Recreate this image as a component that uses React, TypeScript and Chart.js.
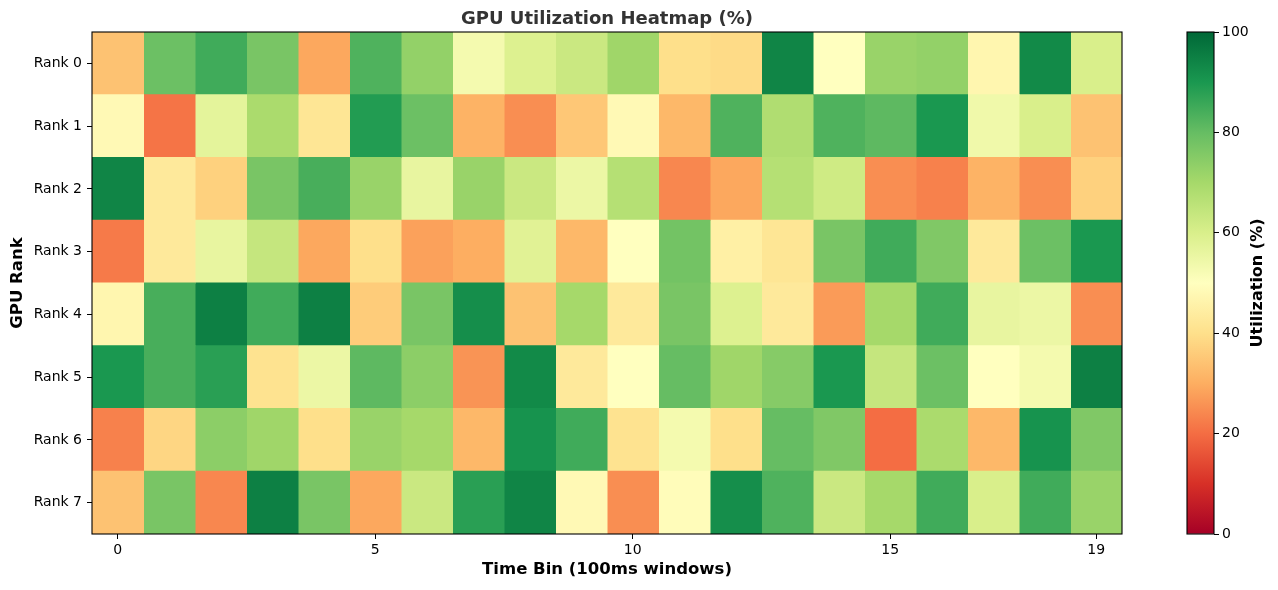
import React, { useEffect, useRef } from 'react';
import { Chart, registerables } from 'chart.js';

Chart.register(...registerables);

// Row labels (GPU ranks) and column labels (100ms time bins)
const rankLabels = ['Rank 0', 'Rank 1', 'Rank 2', 'Rank 3', 'Rank 4', 'Rank 5', 'Rank 6', 'Rank 7'];
const timeBins = [0, 1, 2, 3, 4, 5, 6, 7, 8, 9, 10, 11, 12, 13, 14, 15, 16, 17, 18, 19];
const timeTicks = [0, 5, 10, 15, 19];
const colorbarTicks = [0, 20, 40, 60, 80, 100];

// Utilization (%) per rank, one value per time bin
const rank0 = [34, 79, 85, 77, 29, 83, 73, 53, 59, 63, 71, 40, 39, 94, 50, 72, 73, 47, 93, 60];
const rank1 = [48, 21, 57, 69, 42, 89, 79, 31, 25, 35, 48, 32, 83, 68, 83, 81, 90, 54, 60, 34];
const rank2 = [94, 43, 37, 77, 84, 72, 56, 72, 63, 55, 67, 24, 29, 67, 62, 25, 23, 31, 25, 37];
const rank3 = [22, 43, 56, 64, 29, 40, 28, 30, 58, 32, 50, 78, 45, 42, 77, 85, 76, 43, 79, 90];
const rank4 = [47, 84, 95, 85, 95, 36, 77, 92, 34, 70, 43, 77, 59, 43, 27, 70, 85, 56, 55, 25];
const rank5 = [90, 84, 88, 41, 55, 81, 74, 26, 93, 43, 50, 80, 71, 75, 90, 64, 79, 50, 53, 95];
const rank6 = [23, 38, 74, 71, 40, 72, 70, 32, 91, 85, 41, 53, 40, 80, 76, 20, 69, 32, 91, 76];
const rank7 = [34, 77, 24, 95, 77, 29, 63, 88, 94, 48, 25, 49, 92, 83, 63, 70, 85, 60, 85, 72];

const utilization = [rank0, rank1, rank2, rank3, rank4, rank5, rank6, rank7];

// RdYlGn colormap anchor colours (0 -> 1 in steps of 0.1)
const RDYLGN: number[][] = [
  [165, 0, 38],
  [215, 48, 39],
  [244, 109, 67],
  [253, 174, 97],
  [254, 224, 139],
  [255, 255, 191],
  [217, 239, 139],
  [166, 217, 106],
  [102, 189, 99],
  [26, 152, 80],
  [0, 104, 55],
];

const FONT = "'DejaVu Sans', 'Liberation Sans', sans-serif";

function rgb(c: number[]) {
  return `rgb(${Math.round(c[0])}, ${Math.round(c[1])}, ${Math.round(c[2])})`;
}

function rdylgn(value: number) {
  const t = Math.max(0, Math.min(1, value / 100)) * 10;
  const i = Math.min(9, Math.floor(t));
  const f = t - i;
  const a = RDYLGN[i];
  const b = RDYLGN[i + 1];
  return rgb([a[0] + (b[0] - a[0]) * f, a[1] + (b[1] - a[1]) * f, a[2] + (b[2] - a[2]) * f]);
}

// Black frame around the plotting area, like axis spines
const framePlugin = {
  id: 'frame',
  afterDraw(chart: any) {
    const { ctx, chartArea } = chart;
    ctx.save();
    ctx.strokeStyle = '#000';
    ctx.lineWidth = 1.1;
    ctx.strokeRect(chartArea.left, chartArea.top, chartArea.right - chartArea.left, chartArea.bottom - chartArea.top);
    ctx.restore();
  },
};

// Colorbar label drawn bottom-to-top on the right
const colorbarLabelPlugin = {
  id: 'colorbarLabel',
  afterDraw(chart: any) {
    const { ctx, chartArea } = chart;
    ctx.save();
    ctx.translate(108, (chartArea.top + chartArea.bottom) / 2);
    ctx.rotate(-Math.PI / 2);
    ctx.font = `bold 16px ${FONT}`;
    ctx.fillStyle = '#000';
    ctx.textAlign = 'center';
    ctx.textBaseline = 'middle';
    ctx.fillText('Utilization (%)', 0, 0);
    ctx.restore();
  },
};

export default function App() {
  const heatRef = useRef<HTMLCanvasElement>(null);
  const barRef = useRef<HTMLCanvasElement>(null);

  useEffect(() => {
    Chart.defaults.font.family = FONT;
    Chart.defaults.color = '#000';

    const datasets = timeBins.map((t) => ({
      label: `bin ${t}`,
      data: utilization.map(() => [t - 0.5, t + 0.5]),
      backgroundColor: utilization.map((row) => rdylgn(row[t])),
      borderWidth: 0,
      barPercentage: 1,
      categoryPercentage: 1,
      grouped: false,
      inflateAmount: 0.5,
    }));

    const tickGrid = {
      display: true,
      drawOnChartArea: false,
      drawTicks: true,
      tickLength: 5,
      color: '#000',
      lineWidth: 1,
    };

    const heat = new Chart(heatRef.current as HTMLCanvasElement, {
      type: 'bar',
      data: { labels: rankLabels, datasets: datasets as any },
      plugins: [framePlugin],
      options: {
        indexAxis: 'y',
        responsive: false,
        animation: false,
        devicePixelRatio: 1,
        layout: { padding: { left: 0, right: 28, top: 0, bottom: 0 } },
        plugins: {
          legend: { display: false },
          tooltip: { enabled: false },
          title: {
            display: true,
            text: 'GPU Utilization Heatmap (%)',
            fullSize: false,
            color: '#333',
            font: { family: FONT, size: 18, weight: 'bold' },
            padding: { top: 8.5, bottom: 1.9 },
          },
        },
        scales: {
          x: {
            type: 'linear',
            min: -0.5,
            max: 19.5,
            afterBuildTicks: (scale: any) => {
              scale.ticks = timeTicks.map((v) => ({ value: v }));
            },
            afterFit: (scale: any) => {
              scale.height = 56;
            },
            ticks: { font: { family: FONT, size: 14 }, color: '#000', padding: 3, maxRotation: 0 },
            grid: tickGrid,
            border: { display: false },
            title: {
              display: true,
              text: 'Time Bin (100ms windows)',
              color: '#000',
              font: { family: FONT, size: 16.5, weight: 'bold' },
              padding: { top: 0, bottom: 10 },
            },
          },
          y: {
            type: 'category',
            offset: true,
            afterFit: (scale: any) => {
              scale.width = 92;
            },
            ticks: { font: { family: FONT, size: 14 }, color: '#000', padding: 5 },
            grid: { ...tickGrid, offset: false },
            border: { display: false },
            title: {
              display: true,
              text: 'GPU Rank',
              color: '#000',
              font: { family: FONT, size: 16.5, weight: 'bold' },
              padding: { top: 8, bottom: 0 },
            },
          },
        },
      } as any,
    });

    const bar = new Chart(barRef.current as HTMLCanvasElement, {
      type: 'bar',
      data: {
        labels: [''],
        datasets: [
          {
            data: [[colorbarTicks[0], colorbarTicks[colorbarTicks.length - 1]]],
            backgroundColor: (context: any) => {
              const { chartArea, ctx } = context.chart;
              if (!chartArea) return rdylgn(50);
              const g = ctx.createLinearGradient(0, chartArea.bottom, 0, chartArea.top);
              RDYLGN.forEach((c, i) => g.addColorStop(i / 10, rgb(c)));
              return g;
            },
            borderWidth: 0,
            barPercentage: 1,
            categoryPercentage: 1,
          } as any,
        ],
      },
      plugins: [framePlugin, colorbarLabelPlugin],
      options: {
        responsive: false,
        animation: false,
        devicePixelRatio: 1,
        layout: { padding: { left: 37, right: 0, top: 32, bottom: 56 } },
        plugins: { legend: { display: false }, tooltip: { enabled: false }, title: { display: false } },
        scales: {
          x: { display: false },
          y: {
            position: 'right',
            min: 0,
            max: 100,
            afterBuildTicks: (scale: any) => {
              scale.ticks = colorbarTicks.map((v) => ({ value: v }));
            },
            afterFit: (scale: any) => {
              scale.width = 64;
            },
            ticks: { font: { family: FONT, size: 14 }, color: '#000', padding: 3 },
            grid: { ...tickGrid, tickLength: 5 },
            border: { display: false },
          },
        },
      } as any,
    });

    return () => {
      heat.destroy();
      bar.destroy();
    };
  }, []);

  return (
    <div style={{ position: 'fixed', left: 0, top: 0, width: 1278, height: 590, background: '#fff' }}>
      <canvas ref={heatRef} width={1150} height={590} style={{ position: 'absolute', left: 0, top: 0, width: 1150, height: 590 }} />
      <canvas ref={barRef} width={128} height={590} style={{ position: 'absolute', left: 1150, top: 0, width: 128, height: 590 }} />
    </div>
  );
}
